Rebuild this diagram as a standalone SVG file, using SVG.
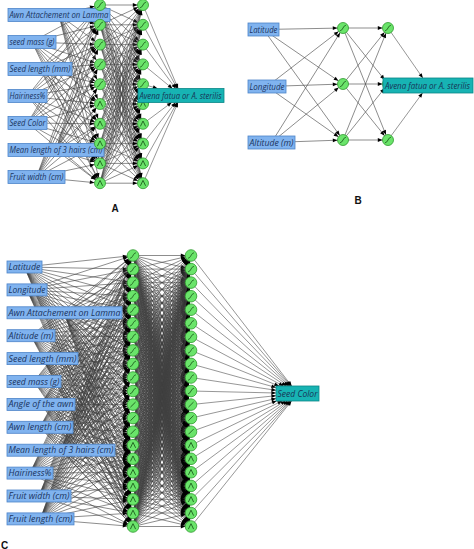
<svg xmlns="http://www.w3.org/2000/svg" width="474" height="549" viewBox="0 0 474 549">
<style>
.e path{fill:none;stroke:#404040;stroke-width:.6;marker-end:url(#an)}
.eo path{fill:none;stroke:#505050;stroke-width:.6;marker-end:url(#ab)}
.in rect{fill:#80b3ef;stroke:#4d84c9;stroke-width:.8}
.in text{font-family:"Open Sans","DejaVu Sans",sans-serif;font-style:italic;fill:#1a3460}
.out rect{fill:#17b3b3;stroke:#0b8787;stroke-width:.8}
.out text{font-family:"Open Sans","DejaVu Sans",sans-serif;font-style:italic;fill:#173456}
.nd circle{fill:#6ae46a;stroke:#2e9a2e;stroke-width:.8}
.lbl{font-family:"Liberation Sans",Arial,sans-serif;font-weight:bold;fill:#111}
</style>
<defs>
<marker id="an" markerUnits="userSpaceOnUse" markerWidth="12" markerHeight="6" refX="10.2" refY="0" orient="auto" overflow="visible"><path d="M0-1.9L4.6 0L0 1.9z" fill="#000"/></marker>
<marker id="ab" markerUnits="userSpaceOnUse" markerWidth="6" markerHeight="6" refX="4.6" refY="0" orient="auto" overflow="visible"><path d="M0-1.9L4.6 0L0 1.9z" fill="#000"/></marker>
<path id="sg" d="M-2.9 2.6C-0.4 3 0.4-3 2.9-2.6" fill="none" stroke="#1d5e1d" stroke-width=".9"/>
<path id="ln" d="M-2.6 2.6L2.6-2.6" fill="none" stroke="#1d5e1d" stroke-width=".9"/>
<path id="ht" d="M-2.6 2.6L0-2.8L2.6 2.6" fill="none" stroke="#1d5e1d" stroke-width=".9"/>
</defs>

<g id="edges-a">
<g class="e">
<path d="M59 15 100 5"/><path d="M59 15 100 24.8"/><path d="M59 15 100 44.6"/><path d="M59 15 100 64.4"/><path d="M59 15 100 84.2"/><path d="M59 15 100 104"/><path d="M59 15 100 123.8"/><path d="M59 15 100 143.6"/><path d="M59 15 100 163.4"/><path d="M59 15 100 183.2"/>
<path d="M32 42 100 5"/><path d="M32 42 100 24.8"/><path d="M32 42 100 44.6"/><path d="M32 42 100 64.4"/><path d="M32 42 100 84.2"/><path d="M32 42 100 104"/><path d="M32 42 100 123.8"/><path d="M32 42 100 143.6"/><path d="M32 42 100 163.4"/><path d="M32 42 100 183.2"/>
<path d="M40 69 100 5"/><path d="M40 69 100 24.8"/><path d="M40 69 100 44.6"/><path d="M40 69 100 64.4"/><path d="M40 69 100 84.2"/><path d="M40 69 100 104"/><path d="M40 69 100 123.8"/><path d="M40 69 100 143.6"/><path d="M40 69 100 163.4"/><path d="M40 69 100 183.2"/>
<path d="M27.5 96 100 5"/><path d="M27.5 96 100 24.8"/><path d="M27.5 96 100 44.6"/><path d="M27.5 96 100 64.4"/><path d="M27.5 96 100 84.2"/><path d="M27.5 96 100 104"/><path d="M27.5 96 100 123.8"/><path d="M27.5 96 100 143.6"/><path d="M27.5 96 100 163.4"/><path d="M27.5 96 100 183.2"/>
<path d="M27.5 123 100 5"/><path d="M27.5 123 100 24.8"/><path d="M27.5 123 100 44.6"/><path d="M27.5 123 100 64.4"/><path d="M27.5 123 100 84.2"/><path d="M27.5 123 100 104"/><path d="M27.5 123 100 123.8"/><path d="M27.5 123 100 143.6"/><path d="M27.5 123 100 163.4"/><path d="M27.5 123 100 183.2"/>
<path d="M56 150 100 5"/><path d="M56 150 100 24.8"/><path d="M56 150 100 44.6"/><path d="M56 150 100 64.4"/><path d="M56 150 100 84.2"/><path d="M56 150 100 104"/><path d="M56 150 100 123.8"/><path d="M56 150 100 143.6"/><path d="M56 150 100 163.4"/><path d="M56 150 100 183.2"/>
<path d="M36.5 177 100 5"/><path d="M36.5 177 100 24.8"/><path d="M36.5 177 100 44.6"/><path d="M36.5 177 100 64.4"/><path d="M36.5 177 100 84.2"/><path d="M36.5 177 100 104"/><path d="M36.5 177 100 123.8"/><path d="M36.5 177 100 143.6"/><path d="M36.5 177 100 163.4"/><path d="M36.5 177 100 183.2"/>
<path d="M100 5 143 5"/><path d="M100 5 143 24.8"/><path d="M100 5 143 44.6"/><path d="M100 5 143 64.4"/><path d="M100 5 143 84.2"/><path d="M100 5 143 104"/><path d="M100 5 143 123.8"/><path d="M100 5 143 143.6"/><path d="M100 5 143 163.4"/><path d="M100 5 143 183.2"/>
<path d="M100 24.8 143 5"/><path d="M100 24.8 143 24.8"/><path d="M100 24.8 143 44.6"/><path d="M100 24.8 143 64.4"/><path d="M100 24.8 143 84.2"/><path d="M100 24.8 143 104"/><path d="M100 24.8 143 123.8"/><path d="M100 24.8 143 143.6"/><path d="M100 24.8 143 163.4"/><path d="M100 24.8 143 183.2"/>
<path d="M100 44.6 143 5"/><path d="M100 44.6 143 24.8"/><path d="M100 44.6 143 44.6"/><path d="M100 44.6 143 64.4"/><path d="M100 44.6 143 84.2"/><path d="M100 44.6 143 104"/><path d="M100 44.6 143 123.8"/><path d="M100 44.6 143 143.6"/><path d="M100 44.6 143 163.4"/><path d="M100 44.6 143 183.2"/>
<path d="M100 64.4 143 5"/><path d="M100 64.4 143 24.8"/><path d="M100 64.4 143 44.6"/><path d="M100 64.4 143 64.4"/><path d="M100 64.4 143 84.2"/><path d="M100 64.4 143 104"/><path d="M100 64.4 143 123.8"/><path d="M100 64.4 143 143.6"/><path d="M100 64.4 143 163.4"/><path d="M100 64.4 143 183.2"/>
<path d="M100 84.2 143 5"/><path d="M100 84.2 143 24.8"/><path d="M100 84.2 143 44.6"/><path d="M100 84.2 143 64.4"/><path d="M100 84.2 143 84.2"/><path d="M100 84.2 143 104"/><path d="M100 84.2 143 123.8"/><path d="M100 84.2 143 143.6"/><path d="M100 84.2 143 163.4"/><path d="M100 84.2 143 183.2"/>
<path d="M100 104 143 5"/><path d="M100 104 143 24.8"/><path d="M100 104 143 44.6"/><path d="M100 104 143 64.4"/><path d="M100 104 143 84.2"/><path d="M100 104 143 104"/><path d="M100 104 143 123.8"/><path d="M100 104 143 143.6"/><path d="M100 104 143 163.4"/><path d="M100 104 143 183.2"/>
<path d="M100 123.8 143 5"/><path d="M100 123.8 143 24.8"/><path d="M100 123.8 143 44.6"/><path d="M100 123.8 143 64.4"/><path d="M100 123.8 143 84.2"/><path d="M100 123.8 143 104"/><path d="M100 123.8 143 123.8"/><path d="M100 123.8 143 143.6"/><path d="M100 123.8 143 163.4"/><path d="M100 123.8 143 183.2"/>
<path d="M100 143.6 143 5"/><path d="M100 143.6 143 24.8"/><path d="M100 143.6 143 44.6"/><path d="M100 143.6 143 64.4"/><path d="M100 143.6 143 84.2"/><path d="M100 143.6 143 104"/><path d="M100 143.6 143 123.8"/><path d="M100 143.6 143 143.6"/><path d="M100 143.6 143 163.4"/><path d="M100 143.6 143 183.2"/>
<path d="M100 163.4 143 5"/><path d="M100 163.4 143 24.8"/><path d="M100 163.4 143 44.6"/><path d="M100 163.4 143 64.4"/><path d="M100 163.4 143 84.2"/><path d="M100 163.4 143 104"/><path d="M100 163.4 143 123.8"/><path d="M100 163.4 143 143.6"/><path d="M100 163.4 143 163.4"/><path d="M100 163.4 143 183.2"/>
<path d="M100 183.2 143 5"/><path d="M100 183.2 143 24.8"/><path d="M100 183.2 143 44.6"/><path d="M100 183.2 143 64.4"/><path d="M100 183.2 143 84.2"/><path d="M100 183.2 143 104"/><path d="M100 183.2 143 123.8"/><path d="M100 183.2 143 143.6"/><path d="M100 183.2 143 163.4"/><path d="M100 183.2 143 183.2"/>
</g>
<g class="eo">
<path d="M143 5 178.1 88.5"/><path d="M143 24.8 177.2 88.5"/><path d="M143 44.6 175.8 88.5"/><path d="M143 64.4 172.4 88.5"/><path d="M143 84.2 157.5 88.5"/><path d="M143 104 149.7 102.5"/><path d="M143 123.8 171.6 102.5"/><path d="M143 143.6 175.5 102.5"/><path d="M143 163.4 177.1 102.5"/><path d="M143 183.2 178 102.5"/>
</g>
</g>

<g id="edges-b">
<g class="e">
<path d="M263.5 29.5 343 28"/><path d="M263.5 29.5 343 84"/><path d="M263.5 29.5 343 140"/>
<path d="M267 86.5 343 28"/><path d="M267 86.5 343 84"/><path d="M267 86.5 343 140"/>
<path d="M271.5 142.5 343 28"/><path d="M271.5 142.5 343 84"/><path d="M271.5 142.5 343 140"/>
<path d="M343 28 388 28"/><path d="M343 28 388 84"/><path d="M343 28 388 140"/>
<path d="M343 84 388 28"/><path d="M343 84 388 84"/><path d="M343 84 388 140"/>
<path d="M343 140 388 28"/><path d="M343 140 388 84"/><path d="M343 140 388 140"/>
</g>
<g class="eo">
<path d="M388 28 422.8 78"/><path d="M388 140 422.5 93"/>
</g>
</g>

<g id="edges-c">
<g class="e">
<path d="M24.5 267 133 255.5"/><path d="M24.5 267 133 269.1"/><path d="M24.5 267 133 282.6"/><path d="M24.5 267 133 296.2"/><path d="M24.5 267 133 309.7"/><path d="M24.5 267 133 323.3"/><path d="M24.5 267 133 336.8"/><path d="M24.5 267 133 350.4"/><path d="M24.5 267 133 363.9"/><path d="M24.5 267 133 377.5"/><path d="M24.5 267 133 391"/><path d="M24.5 267 133 404.6"/><path d="M24.5 267 133 418.1"/><path d="M24.5 267 133 431.7"/><path d="M24.5 267 133 445.2"/><path d="M24.5 267 133 458.8"/><path d="M24.5 267 133 472.3"/><path d="M24.5 267 133 485.9"/><path d="M24.5 267 133 499.4"/><path d="M24.5 267 133 513"/><path d="M24.5 267 133 526.5"/>
<path d="M27 289.9 133 255.5"/><path d="M27 289.9 133 269.1"/><path d="M27 289.9 133 282.6"/><path d="M27 289.9 133 296.2"/><path d="M27 289.9 133 309.7"/><path d="M27 289.9 133 323.3"/><path d="M27 289.9 133 336.8"/><path d="M27 289.9 133 350.4"/><path d="M27 289.9 133 363.9"/><path d="M27 289.9 133 377.5"/><path d="M27 289.9 133 391"/><path d="M27 289.9 133 404.6"/><path d="M27 289.9 133 418.1"/><path d="M27 289.9 133 431.7"/><path d="M27 289.9 133 445.2"/><path d="M27 289.9 133 458.8"/><path d="M27 289.9 133 472.3"/><path d="M27 289.9 133 485.9"/><path d="M27 289.9 133 499.4"/><path d="M27 289.9 133 513"/><path d="M27 289.9 133 526.5"/>
<path d="M64.5 312.8 133 255.5"/><path d="M64.5 312.8 133 269.1"/><path d="M64.5 312.8 133 282.6"/><path d="M64.5 312.8 133 296.2"/><path d="M64.5 312.8 133 309.7"/><path d="M64.5 312.8 133 323.3"/><path d="M64.5 312.8 133 336.8"/><path d="M64.5 312.8 133 350.4"/><path d="M64.5 312.8 133 363.9"/><path d="M64.5 312.8 133 377.5"/><path d="M64.5 312.8 133 391"/><path d="M64.5 312.8 133 404.6"/><path d="M64.5 312.8 133 418.1"/><path d="M64.5 312.8 133 431.7"/><path d="M64.5 312.8 133 445.2"/><path d="M64.5 312.8 133 458.8"/><path d="M64.5 312.8 133 472.3"/><path d="M64.5 312.8 133 485.9"/><path d="M64.5 312.8 133 499.4"/><path d="M64.5 312.8 133 513"/><path d="M64.5 312.8 133 526.5"/>
<path d="M31 335.7 133 255.5"/><path d="M31 335.7 133 269.1"/><path d="M31 335.7 133 282.6"/><path d="M31 335.7 133 296.2"/><path d="M31 335.7 133 309.7"/><path d="M31 335.7 133 323.3"/><path d="M31 335.7 133 336.8"/><path d="M31 335.7 133 350.4"/><path d="M31 335.7 133 363.9"/><path d="M31 335.7 133 377.5"/><path d="M31 335.7 133 391"/><path d="M31 335.7 133 404.6"/><path d="M31 335.7 133 418.1"/><path d="M31 335.7 133 431.7"/><path d="M31 335.7 133 445.2"/><path d="M31 335.7 133 458.8"/><path d="M31 335.7 133 472.3"/><path d="M31 335.7 133 485.9"/><path d="M31 335.7 133 499.4"/><path d="M31 335.7 133 513"/><path d="M31 335.7 133 526.5"/>
<path d="M42.5 358.6 133 255.5"/><path d="M42.5 358.6 133 269.1"/><path d="M42.5 358.6 133 282.6"/><path d="M42.5 358.6 133 296.2"/><path d="M42.5 358.6 133 309.7"/><path d="M42.5 358.6 133 323.3"/><path d="M42.5 358.6 133 336.8"/><path d="M42.5 358.6 133 350.4"/><path d="M42.5 358.6 133 363.9"/><path d="M42.5 358.6 133 377.5"/><path d="M42.5 358.6 133 391"/><path d="M42.5 358.6 133 404.6"/><path d="M42.5 358.6 133 418.1"/><path d="M42.5 358.6 133 431.7"/><path d="M42.5 358.6 133 445.2"/><path d="M42.5 358.6 133 458.8"/><path d="M42.5 358.6 133 472.3"/><path d="M42.5 358.6 133 485.9"/><path d="M42.5 358.6 133 499.4"/><path d="M42.5 358.6 133 513"/><path d="M42.5 358.6 133 526.5"/>
<path d="M34 381.5 133 255.5"/><path d="M34 381.5 133 269.1"/><path d="M34 381.5 133 282.6"/><path d="M34 381.5 133 296.2"/><path d="M34 381.5 133 309.7"/><path d="M34 381.5 133 323.3"/><path d="M34 381.5 133 336.8"/><path d="M34 381.5 133 350.4"/><path d="M34 381.5 133 363.9"/><path d="M34 381.5 133 377.5"/><path d="M34 381.5 133 391"/><path d="M34 381.5 133 404.6"/><path d="M34 381.5 133 418.1"/><path d="M34 381.5 133 431.7"/><path d="M34 381.5 133 445.2"/><path d="M34 381.5 133 458.8"/><path d="M34 381.5 133 472.3"/><path d="M34 381.5 133 485.9"/><path d="M34 381.5 133 499.4"/><path d="M34 381.5 133 513"/><path d="M34 381.5 133 526.5"/>
<path d="M41 404.4 133 255.5"/><path d="M41 404.4 133 269.1"/><path d="M41 404.4 133 282.6"/><path d="M41 404.4 133 296.2"/><path d="M41 404.4 133 309.7"/><path d="M41 404.4 133 323.3"/><path d="M41 404.4 133 336.8"/><path d="M41 404.4 133 350.4"/><path d="M41 404.4 133 363.9"/><path d="M41 404.4 133 377.5"/><path d="M41 404.4 133 391"/><path d="M41 404.4 133 404.6"/><path d="M41 404.4 133 418.1"/><path d="M41 404.4 133 431.7"/><path d="M41 404.4 133 445.2"/><path d="M41 404.4 133 458.8"/><path d="M41 404.4 133 472.3"/><path d="M41 404.4 133 485.9"/><path d="M41 404.4 133 499.4"/><path d="M41 404.4 133 513"/><path d="M41 404.4 133 526.5"/>
<path d="M40 427.3 133 255.5"/><path d="M40 427.3 133 269.1"/><path d="M40 427.3 133 282.6"/><path d="M40 427.3 133 296.2"/><path d="M40 427.3 133 309.7"/><path d="M40 427.3 133 323.3"/><path d="M40 427.3 133 336.8"/><path d="M40 427.3 133 350.4"/><path d="M40 427.3 133 363.9"/><path d="M40 427.3 133 377.5"/><path d="M40 427.3 133 391"/><path d="M40 427.3 133 404.6"/><path d="M40 427.3 133 418.1"/><path d="M40 427.3 133 431.7"/><path d="M40 427.3 133 445.2"/><path d="M40 427.3 133 458.8"/><path d="M40 427.3 133 472.3"/><path d="M40 427.3 133 485.9"/><path d="M40 427.3 133 499.4"/><path d="M40 427.3 133 513"/><path d="M40 427.3 133 526.5"/>
<path d="M61 450.2 133 255.5"/><path d="M61 450.2 133 269.1"/><path d="M61 450.2 133 282.6"/><path d="M61 450.2 133 296.2"/><path d="M61 450.2 133 309.7"/><path d="M61 450.2 133 323.3"/><path d="M61 450.2 133 336.8"/><path d="M61 450.2 133 350.4"/><path d="M61 450.2 133 363.9"/><path d="M61 450.2 133 377.5"/><path d="M61 450.2 133 391"/><path d="M61 450.2 133 404.6"/><path d="M61 450.2 133 418.1"/><path d="M61 450.2 133 431.7"/><path d="M61 450.2 133 445.2"/><path d="M61 450.2 133 458.8"/><path d="M61 450.2 133 472.3"/><path d="M61 450.2 133 485.9"/><path d="M61 450.2 133 499.4"/><path d="M61 450.2 133 513"/><path d="M61 450.2 133 526.5"/>
<path d="M30 473.1 133 255.5"/><path d="M30 473.1 133 269.1"/><path d="M30 473.1 133 282.6"/><path d="M30 473.1 133 296.2"/><path d="M30 473.1 133 309.7"/><path d="M30 473.1 133 323.3"/><path d="M30 473.1 133 336.8"/><path d="M30 473.1 133 350.4"/><path d="M30 473.1 133 363.9"/><path d="M30 473.1 133 377.5"/><path d="M30 473.1 133 391"/><path d="M30 473.1 133 404.6"/><path d="M30 473.1 133 418.1"/><path d="M30 473.1 133 431.7"/><path d="M30 473.1 133 445.2"/><path d="M30 473.1 133 458.8"/><path d="M30 473.1 133 472.3"/><path d="M30 473.1 133 485.9"/><path d="M30 473.1 133 499.4"/><path d="M30 473.1 133 513"/><path d="M30 473.1 133 526.5"/>
<path d="M39 496 133 255.5"/><path d="M39 496 133 269.1"/><path d="M39 496 133 282.6"/><path d="M39 496 133 296.2"/><path d="M39 496 133 309.7"/><path d="M39 496 133 323.3"/><path d="M39 496 133 336.8"/><path d="M39 496 133 350.4"/><path d="M39 496 133 363.9"/><path d="M39 496 133 377.5"/><path d="M39 496 133 391"/><path d="M39 496 133 404.6"/><path d="M39 496 133 418.1"/><path d="M39 496 133 431.7"/><path d="M39 496 133 445.2"/><path d="M39 496 133 458.8"/><path d="M39 496 133 472.3"/><path d="M39 496 133 485.9"/><path d="M39 496 133 499.4"/><path d="M39 496 133 513"/><path d="M39 496 133 526.5"/>
<path d="M40.5 518.9 133 255.5"/><path d="M40.5 518.9 133 269.1"/><path d="M40.5 518.9 133 282.6"/><path d="M40.5 518.9 133 296.2"/><path d="M40.5 518.9 133 309.7"/><path d="M40.5 518.9 133 323.3"/><path d="M40.5 518.9 133 336.8"/><path d="M40.5 518.9 133 350.4"/><path d="M40.5 518.9 133 363.9"/><path d="M40.5 518.9 133 377.5"/><path d="M40.5 518.9 133 391"/><path d="M40.5 518.9 133 404.6"/><path d="M40.5 518.9 133 418.1"/><path d="M40.5 518.9 133 431.7"/><path d="M40.5 518.9 133 445.2"/><path d="M40.5 518.9 133 458.8"/><path d="M40.5 518.9 133 472.3"/><path d="M40.5 518.9 133 485.9"/><path d="M40.5 518.9 133 499.4"/><path d="M40.5 518.9 133 513"/><path d="M40.5 518.9 133 526.5"/>
<path d="M133 255.5 191 255.5"/><path d="M133 255.5 191 269.1"/><path d="M133 255.5 191 282.6"/><path d="M133 255.5 191 296.2"/><path d="M133 255.5 191 309.7"/><path d="M133 255.5 191 323.3"/><path d="M133 255.5 191 336.8"/><path d="M133 255.5 191 350.4"/><path d="M133 255.5 191 363.9"/><path d="M133 255.5 191 377.5"/><path d="M133 255.5 191 391"/><path d="M133 255.5 191 404.6"/><path d="M133 255.5 191 418.1"/><path d="M133 255.5 191 431.7"/><path d="M133 255.5 191 445.2"/><path d="M133 255.5 191 458.8"/><path d="M133 255.5 191 472.3"/><path d="M133 255.5 191 485.9"/><path d="M133 255.5 191 499.4"/><path d="M133 255.5 191 513"/><path d="M133 255.5 191 526.5"/>
<path d="M133 269.1 191 255.5"/><path d="M133 269.1 191 269.1"/><path d="M133 269.1 191 282.6"/><path d="M133 269.1 191 296.2"/><path d="M133 269.1 191 309.7"/><path d="M133 269.1 191 323.3"/><path d="M133 269.1 191 336.8"/><path d="M133 269.1 191 350.4"/><path d="M133 269.1 191 363.9"/><path d="M133 269.1 191 377.5"/><path d="M133 269.1 191 391"/><path d="M133 269.1 191 404.6"/><path d="M133 269.1 191 418.1"/><path d="M133 269.1 191 431.7"/><path d="M133 269.1 191 445.2"/><path d="M133 269.1 191 458.8"/><path d="M133 269.1 191 472.3"/><path d="M133 269.1 191 485.9"/><path d="M133 269.1 191 499.4"/><path d="M133 269.1 191 513"/><path d="M133 269.1 191 526.5"/>
<path d="M133 282.6 191 255.5"/><path d="M133 282.6 191 269.1"/><path d="M133 282.6 191 282.6"/><path d="M133 282.6 191 296.2"/><path d="M133 282.6 191 309.7"/><path d="M133 282.6 191 323.3"/><path d="M133 282.6 191 336.8"/><path d="M133 282.6 191 350.4"/><path d="M133 282.6 191 363.9"/><path d="M133 282.6 191 377.5"/><path d="M133 282.6 191 391"/><path d="M133 282.6 191 404.6"/><path d="M133 282.6 191 418.1"/><path d="M133 282.6 191 431.7"/><path d="M133 282.6 191 445.2"/><path d="M133 282.6 191 458.8"/><path d="M133 282.6 191 472.3"/><path d="M133 282.6 191 485.9"/><path d="M133 282.6 191 499.4"/><path d="M133 282.6 191 513"/><path d="M133 282.6 191 526.5"/>
<path d="M133 296.2 191 255.5"/><path d="M133 296.2 191 269.1"/><path d="M133 296.2 191 282.6"/><path d="M133 296.2 191 296.2"/><path d="M133 296.2 191 309.7"/><path d="M133 296.2 191 323.3"/><path d="M133 296.2 191 336.8"/><path d="M133 296.2 191 350.4"/><path d="M133 296.2 191 363.9"/><path d="M133 296.2 191 377.5"/><path d="M133 296.2 191 391"/><path d="M133 296.2 191 404.6"/><path d="M133 296.2 191 418.1"/><path d="M133 296.2 191 431.7"/><path d="M133 296.2 191 445.2"/><path d="M133 296.2 191 458.8"/><path d="M133 296.2 191 472.3"/><path d="M133 296.2 191 485.9"/><path d="M133 296.2 191 499.4"/><path d="M133 296.2 191 513"/><path d="M133 296.2 191 526.5"/>
<path d="M133 309.7 191 255.5"/><path d="M133 309.7 191 269.1"/><path d="M133 309.7 191 282.6"/><path d="M133 309.7 191 296.2"/><path d="M133 309.7 191 309.7"/><path d="M133 309.7 191 323.3"/><path d="M133 309.7 191 336.8"/><path d="M133 309.7 191 350.4"/><path d="M133 309.7 191 363.9"/><path d="M133 309.7 191 377.5"/><path d="M133 309.7 191 391"/><path d="M133 309.7 191 404.6"/><path d="M133 309.7 191 418.1"/><path d="M133 309.7 191 431.7"/><path d="M133 309.7 191 445.2"/><path d="M133 309.7 191 458.8"/><path d="M133 309.7 191 472.3"/><path d="M133 309.7 191 485.9"/><path d="M133 309.7 191 499.4"/><path d="M133 309.7 191 513"/><path d="M133 309.7 191 526.5"/>
<path d="M133 323.3 191 255.5"/><path d="M133 323.3 191 269.1"/><path d="M133 323.3 191 282.6"/><path d="M133 323.3 191 296.2"/><path d="M133 323.3 191 309.7"/><path d="M133 323.3 191 323.3"/><path d="M133 323.3 191 336.8"/><path d="M133 323.3 191 350.4"/><path d="M133 323.3 191 363.9"/><path d="M133 323.3 191 377.5"/><path d="M133 323.3 191 391"/><path d="M133 323.3 191 404.6"/><path d="M133 323.3 191 418.1"/><path d="M133 323.3 191 431.7"/><path d="M133 323.3 191 445.2"/><path d="M133 323.3 191 458.8"/><path d="M133 323.3 191 472.3"/><path d="M133 323.3 191 485.9"/><path d="M133 323.3 191 499.4"/><path d="M133 323.3 191 513"/><path d="M133 323.3 191 526.5"/>
<path d="M133 336.8 191 255.5"/><path d="M133 336.8 191 269.1"/><path d="M133 336.8 191 282.6"/><path d="M133 336.8 191 296.2"/><path d="M133 336.8 191 309.7"/><path d="M133 336.8 191 323.3"/><path d="M133 336.8 191 336.8"/><path d="M133 336.8 191 350.4"/><path d="M133 336.8 191 363.9"/><path d="M133 336.8 191 377.5"/><path d="M133 336.8 191 391"/><path d="M133 336.8 191 404.6"/><path d="M133 336.8 191 418.1"/><path d="M133 336.8 191 431.7"/><path d="M133 336.8 191 445.2"/><path d="M133 336.8 191 458.8"/><path d="M133 336.8 191 472.3"/><path d="M133 336.8 191 485.9"/><path d="M133 336.8 191 499.4"/><path d="M133 336.8 191 513"/><path d="M133 336.8 191 526.5"/>
<path d="M133 350.4 191 255.5"/><path d="M133 350.4 191 269.1"/><path d="M133 350.4 191 282.6"/><path d="M133 350.4 191 296.2"/><path d="M133 350.4 191 309.7"/><path d="M133 350.4 191 323.3"/><path d="M133 350.4 191 336.8"/><path d="M133 350.4 191 350.4"/><path d="M133 350.4 191 363.9"/><path d="M133 350.4 191 377.5"/><path d="M133 350.4 191 391"/><path d="M133 350.4 191 404.6"/><path d="M133 350.4 191 418.1"/><path d="M133 350.4 191 431.7"/><path d="M133 350.4 191 445.2"/><path d="M133 350.4 191 458.8"/><path d="M133 350.4 191 472.3"/><path d="M133 350.4 191 485.9"/><path d="M133 350.4 191 499.4"/><path d="M133 350.4 191 513"/><path d="M133 350.4 191 526.5"/>
<path d="M133 363.9 191 255.5"/><path d="M133 363.9 191 269.1"/><path d="M133 363.9 191 282.6"/><path d="M133 363.9 191 296.2"/><path d="M133 363.9 191 309.7"/><path d="M133 363.9 191 323.3"/><path d="M133 363.9 191 336.8"/><path d="M133 363.9 191 350.4"/><path d="M133 363.9 191 363.9"/><path d="M133 363.9 191 377.5"/><path d="M133 363.9 191 391"/><path d="M133 363.9 191 404.6"/><path d="M133 363.9 191 418.1"/><path d="M133 363.9 191 431.7"/><path d="M133 363.9 191 445.2"/><path d="M133 363.9 191 458.8"/><path d="M133 363.9 191 472.3"/><path d="M133 363.9 191 485.9"/><path d="M133 363.9 191 499.4"/><path d="M133 363.9 191 513"/><path d="M133 363.9 191 526.5"/>
<path d="M133 377.5 191 255.5"/><path d="M133 377.5 191 269.1"/><path d="M133 377.5 191 282.6"/><path d="M133 377.5 191 296.2"/><path d="M133 377.5 191 309.7"/><path d="M133 377.5 191 323.3"/><path d="M133 377.5 191 336.8"/><path d="M133 377.5 191 350.4"/><path d="M133 377.5 191 363.9"/><path d="M133 377.5 191 377.5"/><path d="M133 377.5 191 391"/><path d="M133 377.5 191 404.6"/><path d="M133 377.5 191 418.1"/><path d="M133 377.5 191 431.7"/><path d="M133 377.5 191 445.2"/><path d="M133 377.5 191 458.8"/><path d="M133 377.5 191 472.3"/><path d="M133 377.5 191 485.9"/><path d="M133 377.5 191 499.4"/><path d="M133 377.5 191 513"/><path d="M133 377.5 191 526.5"/>
<path d="M133 391 191 255.5"/><path d="M133 391 191 269.1"/><path d="M133 391 191 282.6"/><path d="M133 391 191 296.2"/><path d="M133 391 191 309.7"/><path d="M133 391 191 323.3"/><path d="M133 391 191 336.8"/><path d="M133 391 191 350.4"/><path d="M133 391 191 363.9"/><path d="M133 391 191 377.5"/><path d="M133 391 191 391"/><path d="M133 391 191 404.6"/><path d="M133 391 191 418.1"/><path d="M133 391 191 431.7"/><path d="M133 391 191 445.2"/><path d="M133 391 191 458.8"/><path d="M133 391 191 472.3"/><path d="M133 391 191 485.9"/><path d="M133 391 191 499.4"/><path d="M133 391 191 513"/><path d="M133 391 191 526.5"/>
<path d="M133 404.6 191 255.5"/><path d="M133 404.6 191 269.1"/><path d="M133 404.6 191 282.6"/><path d="M133 404.6 191 296.2"/><path d="M133 404.6 191 309.7"/><path d="M133 404.6 191 323.3"/><path d="M133 404.6 191 336.8"/><path d="M133 404.6 191 350.4"/><path d="M133 404.6 191 363.9"/><path d="M133 404.6 191 377.5"/><path d="M133 404.6 191 391"/><path d="M133 404.6 191 404.6"/><path d="M133 404.6 191 418.1"/><path d="M133 404.6 191 431.7"/><path d="M133 404.6 191 445.2"/><path d="M133 404.6 191 458.8"/><path d="M133 404.6 191 472.3"/><path d="M133 404.6 191 485.9"/><path d="M133 404.6 191 499.4"/><path d="M133 404.6 191 513"/><path d="M133 404.6 191 526.5"/>
<path d="M133 418.1 191 255.5"/><path d="M133 418.1 191 269.1"/><path d="M133 418.1 191 282.6"/><path d="M133 418.1 191 296.2"/><path d="M133 418.1 191 309.7"/><path d="M133 418.1 191 323.3"/><path d="M133 418.1 191 336.8"/><path d="M133 418.1 191 350.4"/><path d="M133 418.1 191 363.9"/><path d="M133 418.1 191 377.5"/><path d="M133 418.1 191 391"/><path d="M133 418.1 191 404.6"/><path d="M133 418.1 191 418.1"/><path d="M133 418.1 191 431.7"/><path d="M133 418.1 191 445.2"/><path d="M133 418.1 191 458.8"/><path d="M133 418.1 191 472.3"/><path d="M133 418.1 191 485.9"/><path d="M133 418.1 191 499.4"/><path d="M133 418.1 191 513"/><path d="M133 418.1 191 526.5"/>
<path d="M133 431.7 191 255.5"/><path d="M133 431.7 191 269.1"/><path d="M133 431.7 191 282.6"/><path d="M133 431.7 191 296.2"/><path d="M133 431.7 191 309.7"/><path d="M133 431.7 191 323.3"/><path d="M133 431.7 191 336.8"/><path d="M133 431.7 191 350.4"/><path d="M133 431.7 191 363.9"/><path d="M133 431.7 191 377.5"/><path d="M133 431.7 191 391"/><path d="M133 431.7 191 404.6"/><path d="M133 431.7 191 418.1"/><path d="M133 431.7 191 431.7"/><path d="M133 431.7 191 445.2"/><path d="M133 431.7 191 458.8"/><path d="M133 431.7 191 472.3"/><path d="M133 431.7 191 485.9"/><path d="M133 431.7 191 499.4"/><path d="M133 431.7 191 513"/><path d="M133 431.7 191 526.5"/>
<path d="M133 445.2 191 255.5"/><path d="M133 445.2 191 269.1"/><path d="M133 445.2 191 282.6"/><path d="M133 445.2 191 296.2"/><path d="M133 445.2 191 309.7"/><path d="M133 445.2 191 323.3"/><path d="M133 445.2 191 336.8"/><path d="M133 445.2 191 350.4"/><path d="M133 445.2 191 363.9"/><path d="M133 445.2 191 377.5"/><path d="M133 445.2 191 391"/><path d="M133 445.2 191 404.6"/><path d="M133 445.2 191 418.1"/><path d="M133 445.2 191 431.7"/><path d="M133 445.2 191 445.2"/><path d="M133 445.2 191 458.8"/><path d="M133 445.2 191 472.3"/><path d="M133 445.2 191 485.9"/><path d="M133 445.2 191 499.4"/><path d="M133 445.2 191 513"/><path d="M133 445.2 191 526.5"/>
<path d="M133 458.8 191 255.5"/><path d="M133 458.8 191 269.1"/><path d="M133 458.8 191 282.6"/><path d="M133 458.8 191 296.2"/><path d="M133 458.8 191 309.7"/><path d="M133 458.8 191 323.3"/><path d="M133 458.8 191 336.8"/><path d="M133 458.8 191 350.4"/><path d="M133 458.8 191 363.9"/><path d="M133 458.8 191 377.5"/><path d="M133 458.8 191 391"/><path d="M133 458.8 191 404.6"/><path d="M133 458.8 191 418.1"/><path d="M133 458.8 191 431.7"/><path d="M133 458.8 191 445.2"/><path d="M133 458.8 191 458.8"/><path d="M133 458.8 191 472.3"/><path d="M133 458.8 191 485.9"/><path d="M133 458.8 191 499.4"/><path d="M133 458.8 191 513"/><path d="M133 458.8 191 526.5"/>
<path d="M133 472.3 191 255.5"/><path d="M133 472.3 191 269.1"/><path d="M133 472.3 191 282.6"/><path d="M133 472.3 191 296.2"/><path d="M133 472.3 191 309.7"/><path d="M133 472.3 191 323.3"/><path d="M133 472.3 191 336.8"/><path d="M133 472.3 191 350.4"/><path d="M133 472.3 191 363.9"/><path d="M133 472.3 191 377.5"/><path d="M133 472.3 191 391"/><path d="M133 472.3 191 404.6"/><path d="M133 472.3 191 418.1"/><path d="M133 472.3 191 431.7"/><path d="M133 472.3 191 445.2"/><path d="M133 472.3 191 458.8"/><path d="M133 472.3 191 472.3"/><path d="M133 472.3 191 485.9"/><path d="M133 472.3 191 499.4"/><path d="M133 472.3 191 513"/><path d="M133 472.3 191 526.5"/>
<path d="M133 485.9 191 255.5"/><path d="M133 485.9 191 269.1"/><path d="M133 485.9 191 282.6"/><path d="M133 485.9 191 296.2"/><path d="M133 485.9 191 309.7"/><path d="M133 485.9 191 323.3"/><path d="M133 485.9 191 336.8"/><path d="M133 485.9 191 350.4"/><path d="M133 485.9 191 363.9"/><path d="M133 485.9 191 377.5"/><path d="M133 485.9 191 391"/><path d="M133 485.9 191 404.6"/><path d="M133 485.9 191 418.1"/><path d="M133 485.9 191 431.7"/><path d="M133 485.9 191 445.2"/><path d="M133 485.9 191 458.8"/><path d="M133 485.9 191 472.3"/><path d="M133 485.9 191 485.9"/><path d="M133 485.9 191 499.4"/><path d="M133 485.9 191 513"/><path d="M133 485.9 191 526.5"/>
<path d="M133 499.4 191 255.5"/><path d="M133 499.4 191 269.1"/><path d="M133 499.4 191 282.6"/><path d="M133 499.4 191 296.2"/><path d="M133 499.4 191 309.7"/><path d="M133 499.4 191 323.3"/><path d="M133 499.4 191 336.8"/><path d="M133 499.4 191 350.4"/><path d="M133 499.4 191 363.9"/><path d="M133 499.4 191 377.5"/><path d="M133 499.4 191 391"/><path d="M133 499.4 191 404.6"/><path d="M133 499.4 191 418.1"/><path d="M133 499.4 191 431.7"/><path d="M133 499.4 191 445.2"/><path d="M133 499.4 191 458.8"/><path d="M133 499.4 191 472.3"/><path d="M133 499.4 191 485.9"/><path d="M133 499.4 191 499.4"/><path d="M133 499.4 191 513"/><path d="M133 499.4 191 526.5"/>
<path d="M133 513 191 255.5"/><path d="M133 513 191 269.1"/><path d="M133 513 191 282.6"/><path d="M133 513 191 296.2"/><path d="M133 513 191 309.7"/><path d="M133 513 191 323.3"/><path d="M133 513 191 336.8"/><path d="M133 513 191 350.4"/><path d="M133 513 191 363.9"/><path d="M133 513 191 377.5"/><path d="M133 513 191 391"/><path d="M133 513 191 404.6"/><path d="M133 513 191 418.1"/><path d="M133 513 191 431.7"/><path d="M133 513 191 445.2"/><path d="M133 513 191 458.8"/><path d="M133 513 191 472.3"/><path d="M133 513 191 485.9"/><path d="M133 513 191 499.4"/><path d="M133 513 191 513"/><path d="M133 513 191 526.5"/>
<path d="M133 526.5 191 255.5"/><path d="M133 526.5 191 269.1"/><path d="M133 526.5 191 282.6"/><path d="M133 526.5 191 296.2"/><path d="M133 526.5 191 309.7"/><path d="M133 526.5 191 323.3"/><path d="M133 526.5 191 336.8"/><path d="M133 526.5 191 350.4"/><path d="M133 526.5 191 363.9"/><path d="M133 526.5 191 377.5"/><path d="M133 526.5 191 391"/><path d="M133 526.5 191 404.6"/><path d="M133 526.5 191 418.1"/><path d="M133 526.5 191 431.7"/><path d="M133 526.5 191 445.2"/><path d="M133 526.5 191 458.8"/><path d="M133 526.5 191 472.3"/><path d="M133 526.5 191 485.9"/><path d="M133 526.5 191 499.4"/><path d="M133 526.5 191 513"/><path d="M133 526.5 191 526.5"/>
</g>
<g class="eo">
<path d="M191 255.5 291.7 386"/><path d="M191 269.1 291.1 386"/><path d="M191 282.6 290.3 386"/><path d="M191 296.2 289.3 386"/><path d="M191 309.7 288 386"/><path d="M191 323.3 286.1 386"/><path d="M191 336.8 283.4 386"/><path d="M191 350.4 279 386"/><path d="M191 363.9 276 387.5"/><path d="M191 377.5 276 390.3"/><path d="M191 391 276 393"/><path d="M191 404.6 276 395.7"/><path d="M191 418.1 276 398.5"/><path d="M191 431.7 276.6 401"/><path d="M191 445.2 282.1 401"/><path d="M191 458.8 285.3 401"/><path d="M191 472.3 287.4 401"/><path d="M191 485.9 288.9 401"/><path d="M191 499.4 290 401"/><path d="M191 513 290.8 401"/><path d="M191 526.5 291.5 401"/>
</g>
</g>

<!-- Panel A inputs -->
<g id="a-in-awn" class="in"><rect x="8" y="8.5" width="102" height="13"/><text x="9.5" y="18" font-size="8.4" textLength="99" lengthAdjust="spacingAndGlyphs">Awn Attachement on Lamma</text></g>
<g id="a-in-mass" class="in"><rect x="8" y="35.5" width="48" height="13"/><text x="9.5" y="45" font-size="8.4" textLength="45" lengthAdjust="spacingAndGlyphs">seed mass (g)</text></g>
<g id="a-in-slen" class="in"><rect x="8" y="62.5" width="64" height="13"/><text x="9.5" y="72" font-size="8.4" textLength="61" lengthAdjust="spacingAndGlyphs">Seed length (mm)</text></g>
<g id="a-in-hair" class="in"><rect x="8" y="89.5" width="39" height="13"/><text x="9.5" y="99" font-size="8.4" textLength="36" lengthAdjust="spacingAndGlyphs">Hairiness%</text></g>
<g id="a-in-color" class="in"><rect x="8" y="116.5" width="39" height="13"/><text x="9.5" y="126" font-size="8.4" textLength="36" lengthAdjust="spacingAndGlyphs">Seed Color</text></g>
<g id="a-in-mean" class="in"><rect x="8" y="143.5" width="96" height="13"/><text x="9.5" y="153" font-size="8.4" textLength="93" lengthAdjust="spacingAndGlyphs">Mean length of 3 hairs (cm)</text></g>
<g id="a-in-fw" class="in"><rect x="8" y="170.5" width="57" height="13"/><text x="9.5" y="180" font-size="8.4" textLength="54" lengthAdjust="spacingAndGlyphs">Fruit width (cm)</text></g>

<!-- Panel A nodes -->
<g id="a-h1-0" class="nd" transform="translate(100 5)"><circle r="5.5"/><use href="#sg"/></g>
<g id="a-h1-1" class="nd" transform="translate(100 24.8)"><circle r="5.5"/><use href="#sg"/></g>
<g id="a-h1-2" class="nd" transform="translate(100 44.6)"><circle r="5.5"/><use href="#sg"/></g>
<g id="a-h1-3" class="nd" transform="translate(100 64.4)"><circle r="5.5"/><use href="#sg"/></g>
<g id="a-h1-4" class="nd" transform="translate(100 84.2)"><circle r="5.5"/><use href="#sg"/></g>
<g id="a-h1-5" class="nd" transform="translate(100 104)"><circle r="5.5"/><use href="#ht"/></g>
<g id="a-h1-6" class="nd" transform="translate(100 123.8)"><circle r="5.5"/><use href="#ht"/></g>
<g id="a-h1-7" class="nd" transform="translate(100 143.6)"><circle r="5.5"/><use href="#ht"/></g>
<g id="a-h1-8" class="nd" transform="translate(100 163.4)"><circle r="5.5"/><use href="#ht"/></g>
<g id="a-h1-9" class="nd" transform="translate(100 183.2)"><circle r="5.5"/><use href="#ht"/></g>
<g id="a-h2-0" class="nd" transform="translate(143 5)"><circle r="5.5"/><use href="#sg"/></g>
<g id="a-h2-1" class="nd" transform="translate(143 24.8)"><circle r="5.5"/><use href="#sg"/></g>
<g id="a-h2-2" class="nd" transform="translate(143 44.6)"><circle r="5.5"/><use href="#sg"/></g>
<g id="a-h2-3" class="nd" transform="translate(143 64.4)"><circle r="5.5"/><use href="#sg"/></g>
<g id="a-h2-4" class="nd" transform="translate(143 84.2)"><circle r="5.5"/><use href="#sg"/></g>
<g id="a-h2-5" class="nd" transform="translate(143 104)"><circle r="5.5"/><use href="#ht"/></g>
<g id="a-h2-6" class="nd" transform="translate(143 123.8)"><circle r="5.5"/><use href="#ht"/></g>
<g id="a-h2-7" class="nd" transform="translate(143 143.6)"><circle r="5.5"/><use href="#ht"/></g>
<g id="a-h2-8" class="nd" transform="translate(143 163.4)"><circle r="5.5"/><use href="#ht"/></g>
<g id="a-h2-9" class="nd" transform="translate(143 183.2)"><circle r="5.5"/><use href="#ht"/></g>
<g id="a-out" class="out"><rect x="138" y="88.5" width="86" height="14"/><text x="139.5" y="98.5" font-size="8.4" textLength="82" lengthAdjust="spacingAndGlyphs">Avena fatua or A. sterilis</text></g>
<text class="lbl" x="115" y="212" font-size="10" text-anchor="middle">A</text>

<!-- Panel B -->
<g id="b-in-lat" class="in"><rect x="248" y="23" width="31" height="13"/><text x="249.5" y="32.5" font-size="8.4" textLength="28" lengthAdjust="spacingAndGlyphs">Latitude</text></g>
<g id="b-in-lon" class="in"><rect x="248" y="80" width="38" height="13"/><text x="249.5" y="89.5" font-size="8.4" textLength="35" lengthAdjust="spacingAndGlyphs">Longitude</text></g>
<g id="b-in-alt" class="in"><rect x="248" y="136" width="47" height="13"/><text x="249.5" y="145.5" font-size="8.4" textLength="44" lengthAdjust="spacingAndGlyphs">Altitude (m)</text></g>
<g id="b-h1-0" class="nd" transform="translate(343 28)"><circle r="5.5"/><use href="#sg"/></g>
<g id="b-h1-1" class="nd" transform="translate(343 84)"><circle r="5.5"/><use href="#sg"/></g>
<g id="b-h1-2" class="nd" transform="translate(343 140)"><circle r="5.5"/><use href="#sg"/></g>
<g id="b-h2-0" class="nd" transform="translate(388 28)"><circle r="5.5"/><use href="#sg"/></g>
<g id="b-h2-1" class="nd" transform="translate(388 84)"><circle r="5.5"/><use href="#sg"/></g>
<g id="b-h2-2" class="nd" transform="translate(388 140)"><circle r="5.5"/><use href="#sg"/></g>
<g id="b-out" class="out"><rect x="383" y="78" width="90" height="15"/><text x="385" y="88.5" font-size="8.4" textLength="85" lengthAdjust="spacingAndGlyphs">Avena fatua or A. sterilis</text></g>
<text class="lbl" x="358" y="204" font-size="10" text-anchor="middle">B</text>

<!-- Panel C inputs -->
<g id="c-in-lat" class="in"><rect x="7" y="261" width="35" height="12"/><text x="8.5" y="270" font-size="9.2" textLength="32" lengthAdjust="spacingAndGlyphs">Latitude</text></g>
<g id="c-in-lon" class="in"><rect x="7" y="283.9" width="40" height="12"/><text x="8.5" y="292.9" font-size="9.2" textLength="37" lengthAdjust="spacingAndGlyphs">Longitude</text></g>
<g id="c-in-awn" class="in"><rect x="7" y="306.8" width="115" height="12"/><text x="8.5" y="315.8" font-size="9.2" textLength="112" lengthAdjust="spacingAndGlyphs">Awn Attachement on Lamma</text></g>
<g id="c-in-alt" class="in"><rect x="7" y="329.7" width="48" height="12"/><text x="8.5" y="338.7" font-size="9.2" textLength="45" lengthAdjust="spacingAndGlyphs">Altitude (m)</text></g>
<g id="c-in-slen" class="in"><rect x="7" y="352.6" width="71" height="12"/><text x="8.5" y="361.6" font-size="9.2" textLength="68" lengthAdjust="spacingAndGlyphs">Seed length (mm)</text></g>
<g id="c-in-mass" class="in"><rect x="7" y="375.5" width="54" height="12"/><text x="8.5" y="384.5" font-size="9.2" textLength="51" lengthAdjust="spacingAndGlyphs">seed mass (g)</text></g>
<g id="c-in-angle" class="in"><rect x="7" y="398.4" width="68" height="12"/><text x="8.5" y="407.4" font-size="9.2" textLength="65" lengthAdjust="spacingAndGlyphs">Angle of the awn</text></g>
<g id="c-in-awnlen" class="in"><rect x="7" y="421.3" width="66" height="12"/><text x="8.5" y="430.3" font-size="9.2" textLength="63" lengthAdjust="spacingAndGlyphs">Awn length (cm)</text></g>
<g id="c-in-mean" class="in"><rect x="7" y="444.2" width="108" height="12"/><text x="8.5" y="453.2" font-size="9.2" textLength="105" lengthAdjust="spacingAndGlyphs">Mean length of 3 hairs (cm)</text></g>
<g id="c-in-hair" class="in"><rect x="7" y="467.1" width="46" height="12"/><text x="8.5" y="476.1" font-size="9.2" textLength="43" lengthAdjust="spacingAndGlyphs">Hairiness%</text></g>
<g id="c-in-fw" class="in"><rect x="7" y="490" width="64" height="12"/><text x="8.5" y="499" font-size="9.2" textLength="61" lengthAdjust="spacingAndGlyphs">Fruit width (cm)</text></g>
<g id="c-in-fl" class="in"><rect x="7" y="512.9" width="67" height="12"/><text x="8.5" y="521.9" font-size="9.2" textLength="64" lengthAdjust="spacingAndGlyphs">Fruit length (cm)</text></g>

<!-- Panel C nodes -->
<g id="c-h1-0" class="nd" transform="translate(133 255.5)"><circle r="5.8"/><use href="#sg"/></g>
<g id="c-h1-1" class="nd" transform="translate(133 269.1)"><circle r="5.8"/><use href="#sg"/></g>
<g id="c-h1-2" class="nd" transform="translate(133 282.6)"><circle r="5.8"/><use href="#sg"/></g>
<g id="c-h1-3" class="nd" transform="translate(133 296.2)"><circle r="5.8"/><use href="#sg"/></g>
<g id="c-h1-4" class="nd" transform="translate(133 309.7)"><circle r="5.8"/><use href="#sg"/></g>
<g id="c-h1-5" class="nd" transform="translate(133 323.3)"><circle r="5.8"/><use href="#sg"/></g>
<g id="c-h1-6" class="nd" transform="translate(133 336.8)"><circle r="5.8"/><use href="#sg"/></g>
<g id="c-h1-7" class="nd" transform="translate(133 350.4)"><circle r="5.8"/><use href="#sg"/></g>
<g id="c-h1-8" class="nd" transform="translate(133 363.9)"><circle r="5.8"/><use href="#sg"/></g>
<g id="c-h1-9" class="nd" transform="translate(133 377.5)"><circle r="5.8"/><use href="#sg"/></g>
<g id="c-h1-10" class="nd" transform="translate(133 391)"><circle r="5.8"/><use href="#sg"/></g>
<g id="c-h1-11" class="nd" transform="translate(133 404.6)"><circle r="5.8"/><use href="#ln"/></g>
<g id="c-h1-12" class="nd" transform="translate(133 418.1)"><circle r="5.8"/><use href="#ln"/></g>
<g id="c-h1-13" class="nd" transform="translate(133 431.7)"><circle r="5.8"/><use href="#ln"/></g>
<g id="c-h1-14" class="nd" transform="translate(133 445.2)"><circle r="5.8"/><use href="#ht"/></g>
<g id="c-h1-15" class="nd" transform="translate(133 458.8)"><circle r="5.8"/><use href="#ht"/></g>
<g id="c-h1-16" class="nd" transform="translate(133 472.3)"><circle r="5.8"/><use href="#ht"/></g>
<g id="c-h1-17" class="nd" transform="translate(133 485.9)"><circle r="5.8"/><use href="#ht"/></g>
<g id="c-h1-18" class="nd" transform="translate(133 499.4)"><circle r="5.8"/><use href="#ht"/></g>
<g id="c-h1-19" class="nd" transform="translate(133 513)"><circle r="5.8"/><use href="#ht"/></g>
<g id="c-h1-20" class="nd" transform="translate(133 526.5)"><circle r="5.8"/><use href="#ht"/></g>
<g id="c-h2-0" class="nd" transform="translate(191 255.5)"><circle r="5.8"/><use href="#sg"/></g>
<g id="c-h2-1" class="nd" transform="translate(191 269.1)"><circle r="5.8"/><use href="#sg"/></g>
<g id="c-h2-2" class="nd" transform="translate(191 282.6)"><circle r="5.8"/><use href="#sg"/></g>
<g id="c-h2-3" class="nd" transform="translate(191 296.2)"><circle r="5.8"/><use href="#sg"/></g>
<g id="c-h2-4" class="nd" transform="translate(191 309.7)"><circle r="5.8"/><use href="#sg"/></g>
<g id="c-h2-5" class="nd" transform="translate(191 323.3)"><circle r="5.8"/><use href="#sg"/></g>
<g id="c-h2-6" class="nd" transform="translate(191 336.8)"><circle r="5.8"/><use href="#sg"/></g>
<g id="c-h2-7" class="nd" transform="translate(191 350.4)"><circle r="5.8"/><use href="#sg"/></g>
<g id="c-h2-8" class="nd" transform="translate(191 363.9)"><circle r="5.8"/><use href="#sg"/></g>
<g id="c-h2-9" class="nd" transform="translate(191 377.5)"><circle r="5.8"/><use href="#sg"/></g>
<g id="c-h2-10" class="nd" transform="translate(191 391)"><circle r="5.8"/><use href="#sg"/></g>
<g id="c-h2-11" class="nd" transform="translate(191 404.6)"><circle r="5.8"/><use href="#ln"/></g>
<g id="c-h2-12" class="nd" transform="translate(191 418.1)"><circle r="5.8"/><use href="#ln"/></g>
<g id="c-h2-13" class="nd" transform="translate(191 431.7)"><circle r="5.8"/><use href="#ln"/></g>
<g id="c-h2-14" class="nd" transform="translate(191 445.2)"><circle r="5.8"/><use href="#ht"/></g>
<g id="c-h2-15" class="nd" transform="translate(191 458.8)"><circle r="5.8"/><use href="#ht"/></g>
<g id="c-h2-16" class="nd" transform="translate(191 472.3)"><circle r="5.8"/><use href="#ht"/></g>
<g id="c-h2-17" class="nd" transform="translate(191 485.9)"><circle r="5.8"/><use href="#ht"/></g>
<g id="c-h2-18" class="nd" transform="translate(191 499.4)"><circle r="5.8"/><use href="#ht"/></g>
<g id="c-h2-19" class="nd" transform="translate(191 513)"><circle r="5.8"/><use href="#ht"/></g>
<g id="c-h2-20" class="nd" transform="translate(191 526.5)"><circle r="5.8"/><use href="#ht"/></g>
<g id="c-out" class="out"><rect x="276" y="386" width="43" height="15"/><text x="277.5" y="396.8" font-size="9.2" textLength="40" lengthAdjust="spacingAndGlyphs">Seed Color</text></g>
<text class="lbl" x="1" y="548.5" font-size="10">C</text>
</svg>
